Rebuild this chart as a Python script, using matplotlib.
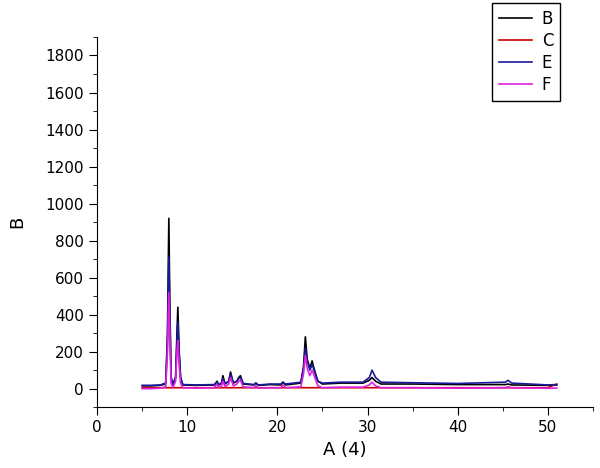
import matplotlib
matplotlib.use("Agg")
import matplotlib.pyplot as plt
from matplotlib.ticker import MultipleLocator

xB = [5, 6, 7, 7.6, 7.8, 7.95, 8.05, 8.2, 8.4, 8.7, 8.85, 8.95, 9.1, 9.25, 9.5, 11, 13.0, 13.3, 13.5, 13.8, 13.95, 14.2, 14.6, 14.8, 15.1, 15.5, 15.7, 15.9, 16.2, 17.4, 17.6, 17.9, 19.2, 20.4, 20.6, 20.9, 22.6, 22.9, 23.1, 23.3, 23.6, 23.85, 24.0, 24.3, 24.5, 25, 27, 29.5, 30.2, 30.5, 30.9, 31.5, 35, 40, 45.3, 45.6, 46, 50, 51]
yB = [15, 15, 18, 25, 300, 920, 500, 60, 20, 60, 300, 440, 200, 60, 20, 18, 20, 40, 20, 30, 70, 25, 40, 90, 30, 40, 60, 70, 25, 20, 30, 18, 22, 20, 35, 20, 30, 120, 280, 160, 110, 150, 120, 70, 40, 25, 30, 30, 45, 60, 40, 25, 25, 22, 22, 25, 20, 18, 20]
xE = xB
yE = [18, 18, 20, 30, 250, 710, 420, 60, 25, 60, 250, 360, 180, 60, 22, 20, 22, 35, 22, 30, 55, 28, 40, 80, 32, 40, 55, 60, 28, 22, 30, 20, 25, 25, 35, 25, 35, 110, 220, 150, 100, 130, 110, 65, 40, 30, 35, 35, 60, 100, 60, 35, 32, 28, 35, 45, 30, 20, 22]
xF = xB
yF = [0, 0, 3, 10, 200, 520, 300, 30, 5, 40, 200, 260, 120, 30, 5, 3, 5, 25, 5, 15, 40, 10, 25, 60, 15, 25, 40, 45, 10, 5, 15, 3, 5, 5, 20, 5, 10, 80, 180, 110, 70, 100, 80, 40, 15, 5, 8, 8, 20, 35, 15, 5, 5, 3, 5, 10, 5, 2, 3]
xC = [5, 10, 20, 30, 40, 50, 51]
yC = [5, 5, 5, 5, 5, 5, 25]

fig = plt.figure(figsize=(6, 4.68), dpi=100)
ax = fig.add_axes([0.162, 0.130, 0.826, 0.791])
ax.plot(xB, yB, color="black", lw=1.2, label="B")
ax.plot(xC, yC, color="#cc0000", lw=1.2, label="C")
ax.plot(xE, yE, color="#1a1a9a", lw=1.2, label="E")
ax.plot(xF, yF, color="#e020e0", lw=1.2, label="F")
ax.set_xlim(0, 55)
ax.set_ylim(-100, 1900)
ax.xaxis.set_major_locator(MultipleLocator(10))
ax.xaxis.set_minor_locator(MultipleLocator(5))
ax.yaxis.set_major_locator(MultipleLocator(200))
ax.yaxis.set_minor_locator(MultipleLocator(100))
ax.tick_params(which="major", direction="out", length=6, labelsize=11)
ax.tick_params(which="minor", direction="out", length=3)
ax.spines["top"].set_visible(False)
ax.spines["right"].set_visible(False)
ax.set_xlabel("A (4)", fontsize=13)
ax.set_ylabel("B", fontsize=13, labelpad=14)
fig.legend(loc="upper right", bbox_to_anchor=(560/600, 1-3/468), fancybox=False,
           edgecolor="black", framealpha=1, fontsize=12, handlelength=2.0,
           borderaxespad=0, labelspacing=0.25, handletextpad=0.6)
fig.savefig("out.png")
